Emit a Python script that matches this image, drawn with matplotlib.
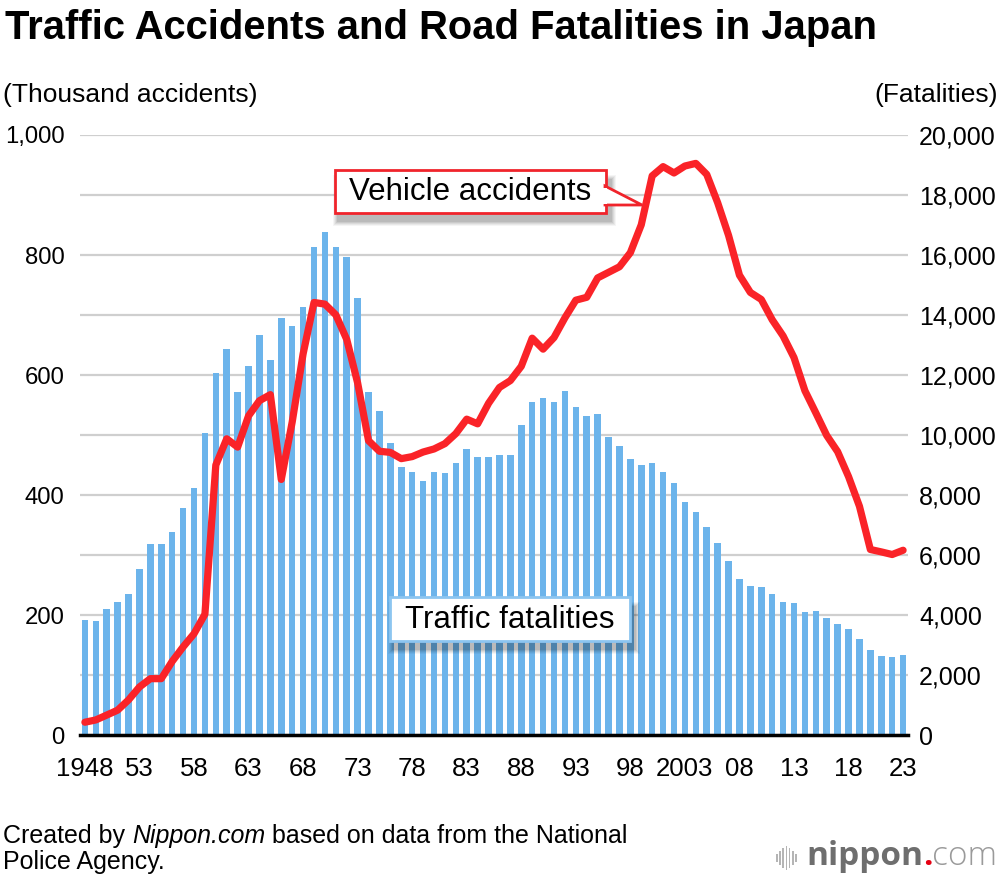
import matplotlib
matplotlib.use("Agg")
import matplotlib.pyplot as plt
from matplotlib.patches import Polygon, Rectangle
from matplotlib.ticker import FuncFormatter, MultipleLocator

plt.rcParams['font.family'] = ['Liberation Sans', 'DejaVu Sans']

# ---------------- data ----------------
years = list(range(1948, 2024))

# Traffic fatalities (persons)
fatalities = [3848, 3790, 4202, 4429, 4696, 5544, 6374, 6379, 6751, 7575,
              8248, 10079, 12055, 12865, 11445, 12301, 13318, 12484, 13904, 13618,
              14256, 16257, 16765, 16278, 15918, 14574, 11432, 10792, 9734, 8945,
              8783, 8466, 8760, 8719, 9073, 9520, 9262, 9261, 9317, 9347,
              10344, 11086, 11227, 11109, 11452, 10942, 10649, 10684, 9942, 9640,
              9211, 9006, 9073, 8757, 8396, 7768, 7436, 6937, 6415, 5796,
              5209, 4979, 4948, 4691, 4438, 4388, 4113, 4117, 3904, 3694,
              3532, 3215, 2839, 2636, 2610, 2678]

# Vehicle accidents (thousand)
accidents = [21.3, 25.1, 33.2, 41.4, 58.5, 80.0, 93.9, 93.9, 122.7, 146.8,
             168.8, 201.3, 449.9, 493.7, 479.8, 531.9, 557.2, 567.3, 425.9, 521.5,
             635.1, 720.9, 718.1, 700.3, 659.3, 586.7, 490.5, 472.9, 471.0, 460.6,
             464.0, 471.6, 476.7, 485.6, 502.3, 526.4, 518.6, 552.8, 579.2, 590.7,
             614.5, 661.4, 643.1, 662.4, 695.3, 724.7, 729.5, 761.8, 771.1, 780.4,
             803.9, 850.4, 931.9, 947.3, 936.7, 948.3, 952.7, 934.3, 887.3, 832.7,
             766.4, 737.6, 725.9, 692.1, 665.1, 629.0, 573.8, 536.9, 499.2, 472.2,
             430.6, 381.2, 309.2, 305.2, 300.8, 307.9]

xtick_years = [1948, 1953, 1958, 1963, 1968, 1973, 1978, 1983, 1988, 1993,
               1998, 2003, 2008, 2013, 2018, 2023]
xtick_labels = ["1948", "53", "58", "63", "68", "73", "78", "83", "88", "93",
                "98", "2003", "08", "13", "18", "23"]

BAR_COLOR = "#6cb4eb"
LINE_COLOR = "#fa2328"

W, H = 1000, 880
fig = plt.figure(figsize=(10, 8.8), dpi=100)

# axes in pixel terms: left 80, right 908, top 135, bottom 735
L, R, T, B = 80, 908, 135, 735
ax = fig.add_axes([L / W, 1 - B / H, (R - L) / W, (B - T) / H])

# bars: fatalities on right scale
ax.bar(years, fatalities, width=0.6, color=BAR_COLOR, zorder=2)
ax.set_ylim(0, 20000)
ax.set_xlim(1947.55, 2023.45)
ax.set_xticks(xtick_years)
ax.set_xticklabels(xtick_labels)
ax.tick_params(axis='x', length=0, labelsize=18.5, pad=16)
for s in ['top', 'left', 'right']:
    ax.spines[s].set_visible(False)
ax.spines['bottom'].set_linewidth(2.5)
ax.spines['bottom'].set_color('black')
ax.spines['bottom'].set_zorder(5)

# line: accidents on left scale
ax2 = ax.twinx()
ax2.plot(years, accidents, color=LINE_COLOR, linewidth=5.2, solid_capstyle='round',
         solid_joinstyle='round', zorder=4)
ax2.set_ylim(0, 1000)
ax2.yaxis.tick_left()
ax2.yaxis.set_major_locator(MultipleLocator(200))
ax2.yaxis.set_major_formatter(FuncFormatter(lambda v, p: f"{int(v):,}"))
ax2.tick_params(axis='y', length=0, labelsize=17.2, pad=11)
for s in ['top', 'left', 'right', 'bottom']:
    ax2.spines[s].set_visible(False)

# right-hand scale for fatalities (set after twinx, which resets sides)
ax.yaxis.tick_right()
ax.yaxis.set_major_locator(MultipleLocator(2000))
ax.yaxis.set_major_formatter(FuncFormatter(lambda v, p: f"{int(v):,}"))
ax.tick_params(axis='y', which='both', length=0, labelsize=18, pad=8,
               left=False, labelleft=False, right=False, labelright=True)
ax.grid(axis='y', which='major', color='#cfcfcf', linewidth=1.6, zorder=0)
ax.set_axisbelow(True)


# --------------- text ---------------
def fy(py):
    return 1 - py / H


renderer = fig.canvas.get_renderer()

fig.text(5 / W, fy(28), "Traffic Accidents and Road Fatalities in Japan",
         fontsize=28.8, fontweight='bold', ha='left', va='center')
fig.text(3 / W, fy(95), "(Thousand accidents)", fontsize=19, ha='left', va='center')
fig.text(998 / W, fy(95), "(Fatalities)", fontsize=19, ha='right', va='center')

parts = [("Created by ", 'normal'), ("Nippon.com", 'italic'),
         (" based on data from the National", 'normal')]
x0 = 3
for txt, style in parts:
    tt = fig.text(x0 / W, fy(836), txt, fontsize=18, style=style, ha='left', va='center')
    bb = tt.get_window_extent(renderer=renderer)
    x0 += bb.width
fig.text(3 / W, fy(862), "Police Agency.", fontsize=18, ha='left', va='center')

# logo
bar_h = [8, 14, 20, 24, 20, 14, 8]
for i, h in enumerate(bar_h):
    fig.add_artist(Rectangle(((776 + i * 3.2) / W, fy(858 + h / 2)), 1.6 / W, h / H,
                             transform=fig.transFigure, color='#b5b5b5', lw=0))
lx = 806
for txt, col, wt in [("nippon", '#6e6e6e', 'bold'), (".", '#e60012', 'bold'),
                     ("com", '#9a9a9a', 'light')]:
    tt = fig.text(lx / W, fy(856), txt, fontsize=24, color=col, fontweight=wt,
                  family=['Open Sans', 'DejaVu Sans'], ha='left', va='center')
    bb = tt.get_window_extent(renderer=renderer)
    lx += bb.width


# --------------- callout boxes ---------------
def shadow(x0, y0, x1, y1):
    for k, a in enumerate([0.04, 0.05, 0.06, 0.07, 0.08]):
        g = 6 - k
        fig.add_artist(Rectangle(((x0 + 4 - g) / W, fy(y1 + 7 + g)),
                                 (x1 - x0 + 2 * g) / W, (y1 - y0 + 2 * g - 4) / H,
                                 transform=fig.transFigure, color='black', alpha=a, lw=0,
                                 zorder=10))


def box(x0, y0, x1, y1, edge, label, fs):
    shadow(x0, y0, x1, y1)
    fig.add_artist(Rectangle((x0 / W, fy(y1)), (x1 - x0) / W, (y1 - y0) / H,
                             transform=fig.transFigure, facecolor='white',
                             edgecolor=edge, lw=2, zorder=11))
    fig.text((x0 + x1) / 2 / W, fy((y0 + y1) / 2 + 1), label, fontsize=fs,
             ha='center', va='center', zorder=13)


# Vehicle accidents callout
box(335, 170, 606, 213, '#f0242b', "Vehicle accidents", 22.5)
fig.add_artist(Polygon([(605 / W, fy(186)), (642 / W, fy(205)), (605 / W, fy(205))],
                       closed=True, transform=fig.transFigure, facecolor='white',
                       edgecolor='#f0242b', lw=2, zorder=12))
fig.add_artist(Rectangle((603 / W, fy(204)), 4 / W, 16 / H, transform=fig.transFigure,
                         color='white', lw=0, zorder=12.5))

# Traffic fatalities box
box(390, 597, 630, 641, '#8cc5f0', "Traffic fatalities", 22.5)

fig.savefig("out.png", dpi=100)
